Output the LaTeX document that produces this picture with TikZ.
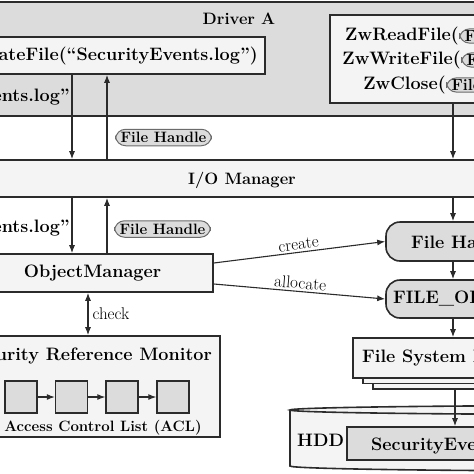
\documentclass[tikz,border=0pt]{standalone}
\usetikzlibrary{arrows.meta}
\tikzset{>={Latex[length=8pt,width=6pt]}}
\definecolor{boxgray}{HTML}{DCDCDC}
\definecolor{boxlight}{HTML}{F4F4F4}
\definecolor{edge}{HTML}{2B2B2B}
\tikzset{
  band/.style={draw=edge, line width=1.6pt, inner sep=0pt},
  bigtxt/.style={font=\fontsize{18}{20}\selectfont\bfseries, inner sep=1pt},
  midtxt/.style={font=\fontsize{16.5}{18}\selectfont\bfseries, inner sep=1pt},
  smalltxt/.style={font=\fontsize{17}{19}\selectfont, inner sep=2pt},
  pill/.style={draw=edge!70, fill=boxgray, line width=1pt, rounded corners=10pt,
    font=\fontsize{15}{17}\selectfont\bfseries, inner xsep=5pt, inner ysep=3pt},
  aclcell/.style={draw=edge, fill=boxgray, line width=1.4pt, minimum size=32pt, inner sep=0pt},
  arrowline/.style={line width=1.1pt, draw=edge}
}
\newcommand{\handlepill}[2]{
   \node[pill, anchor=west, inner ysep=1.5pt, font=\fontsize{16}{18}\selectfont\bfseries] (#1) at (#2) {File Handle};
}

\begin{document}
\begin{tikzpicture}[x=1pt,y=-1pt]
		\useasboundingbox (0,0) rectangle (474,474);
		\clip (0,0) rectangle (474,474);

		% Driver A
		\node[band, fill=boxgray, minimum width=500pt, minimum height=114pt] (driver) at (240,59) {};
		\node[midtxt] (drivername) at (239,19) {Driver A};
		\node[band, fill=boxlight, minimum width=365pt, minimum height=37pt] (createcall) at (82.5,55.5) {};
		\node[bigtxt, anchor=east] (createtxt) at (259,56) {ZwCreateFile(“SecurityEvents.log”)};
		\node[bigtxt, anchor=east] (fnameup) at (71,97) {“SecurityEvents.log”};
		\node[band, fill=boxlight, minimum width=190pt, minimum height=88pt] (zwcalls) at (425,59) {};
		\node[bigtxt, anchor=east] (readtxt) at (460,36) {ZwReadFile(};
		\node[bigtxt, anchor=east] (writetxt) at (462,60) {ZwWriteFile(};
		\node[bigtxt, anchor=east] (closetxt) at (447,85) {ZwClose(};
		\handlepill{readpill}{459,36}
		\handlepill{writepill}{461,60}
		\handlepill{closepill}{446,85}

		% I/O Manager
		\node[band, fill=boxlight, minimum width=500pt, minimum height=37pt] (iomgr) at (240,178.5) {};
		\node[midtxt] (iotxt) at (242,180) {I/O Manager};
		\node[pill] (handleup) at (163.5,137.5) {File Handle};
		\node[pill] (handledown) at (162.5,229) {File Handle};
		\node[bigtxt, anchor=east] (fnamedown) at (71,228) {“SecurityEvents.log”};

		% Object Manager
		\node[band, fill=boxlight, minimum width=241pt, minimum height=38pt, bigtxt] (objmgr) at (92.5,273) {ObjectManager};

		% Security Reference Monitor
		\node[band, fill=boxlight, minimum width=240pt, minimum height=101pt] (srm) at (100,386.5) {};
		\node[bigtxt, anchor=east] (srmtxt) at (213,356) {Security Reference Monitor};
		\foreach \x [count=\i] in {21,71.5,122,173}
			\node[aclcell] (acl\i) at (\x,397) {};
		\foreach \i/\j in {1/2,2/3,3/4}
			\draw[->, arrowline] (acl\i) -- (acl\j);
		\node[font=\fontsize{15}{17}\selectfont\bfseries] (acltxt) at (103,428) {Access Control List (ACL)};

		% File Handle / FILE_OBJECT
		\node[band, fill=boxgray, rounded corners=14pt, minimum width=160pt, minimum height=39pt] (fhandle) at (466,241.5) {};
		\node[bigtxt, anchor=west] (fhtxt) at (410,242) {File Handle};
		\node[band, fill=boxgray, rounded corners=14pt, minimum width=160pt, minimum height=38pt] (fobject) at (466,299) {};
		\node[bigtxt, anchor=west] (fotxt) at (392,299) {FILE\_OBJECT};

		% File System Driver stack
		\node[band, fill=boxlight, line width=1.3pt, minimum width=180pt, minimum height=40pt] (fsback) at (463,369) {};
		\node[band, fill=boxlight, line width=1.3pt, minimum width=180pt, minimum height=40pt] (fsmid) at (453,363.5) {};
		\node[band, fill=boxlight, minimum width=180pt, minimum height=40pt] (fsdrv) at (443,358) {};
		\node[bigtxt, anchor=west] (fstxt) at (361,358) {File System Driver};

		% HDD
		\fill[boxlight] (290,410) -- (290,466) arc[start angle=180, end angle=0, x radius=330, y radius=5] -- (950,410) -- cycle;
		\draw[edge, line width=1.6pt] (290,410) -- (290,466) arc[start angle=180, end angle=0, x radius=330, y radius=5];
		\draw[edge, line width=1.6pt, fill=boxlight] (620,410) ellipse[x radius=330, y radius=4.5];
		\node[bigtxt, anchor=west] (hddtxt) at (296,440) {HDD};
		\node[band, fill=boxgray, minimum width=200pt, minimum height=33pt] (secev) at (447,443.5) {};
		\node[bigtxt, anchor=west] (secevtxt) at (370,446) {SecurityEvents.log};

		% Arrows
		\draw[->, arrowline] (createcall.south -| 72,0) -- (iomgr.north -| 72,0);
		\draw[->, arrowline] (iomgr.north -| 107,0) -- (createcall.south -| 107,0);
		\draw[->, arrowline] (zwcalls.south -| 453,0) -- (iomgr.north -| 453,0);
		\draw[->, arrowline] (iomgr.south -| 72,0) -- (objmgr.north -| 72,0);
		\draw[->, arrowline] (objmgr.north -| 107,0) -- (iomgr.south -| 107,0);
		\draw[->, arrowline] (iomgr.south -| 453,0) -- (fhandle.north -| 453,0);
		\draw[->, arrowline] (fhandle.south -| 453,0) -- (fobject.north -| 453,0);
		\draw[->, arrowline] (fobject.south -| 453,0) -- (fsdrv.north -| 453,0);
		\draw[->, arrowline] (fsback.south -| 455,0) -- (secev.north -| 455,0);
		\draw[<->, arrowline] (objmgr.south -| 88,0) -- node[smalltxt, right, xshift=2pt] (checktxt) {check} (srm.north -| 88,0);
		\draw[->, arrowline] ([yshift=10pt]objmgr.east) -- node[smalltxt, sloped, above] (createlbl) {create} (fhandle.west);
		\draw[->, arrowline] ([yshift=-11pt]objmgr.east) -- node[smalltxt, sloped, above] (alloclbl) {allocate} (fobject.west);
	\end{tikzpicture}
\end{document}
